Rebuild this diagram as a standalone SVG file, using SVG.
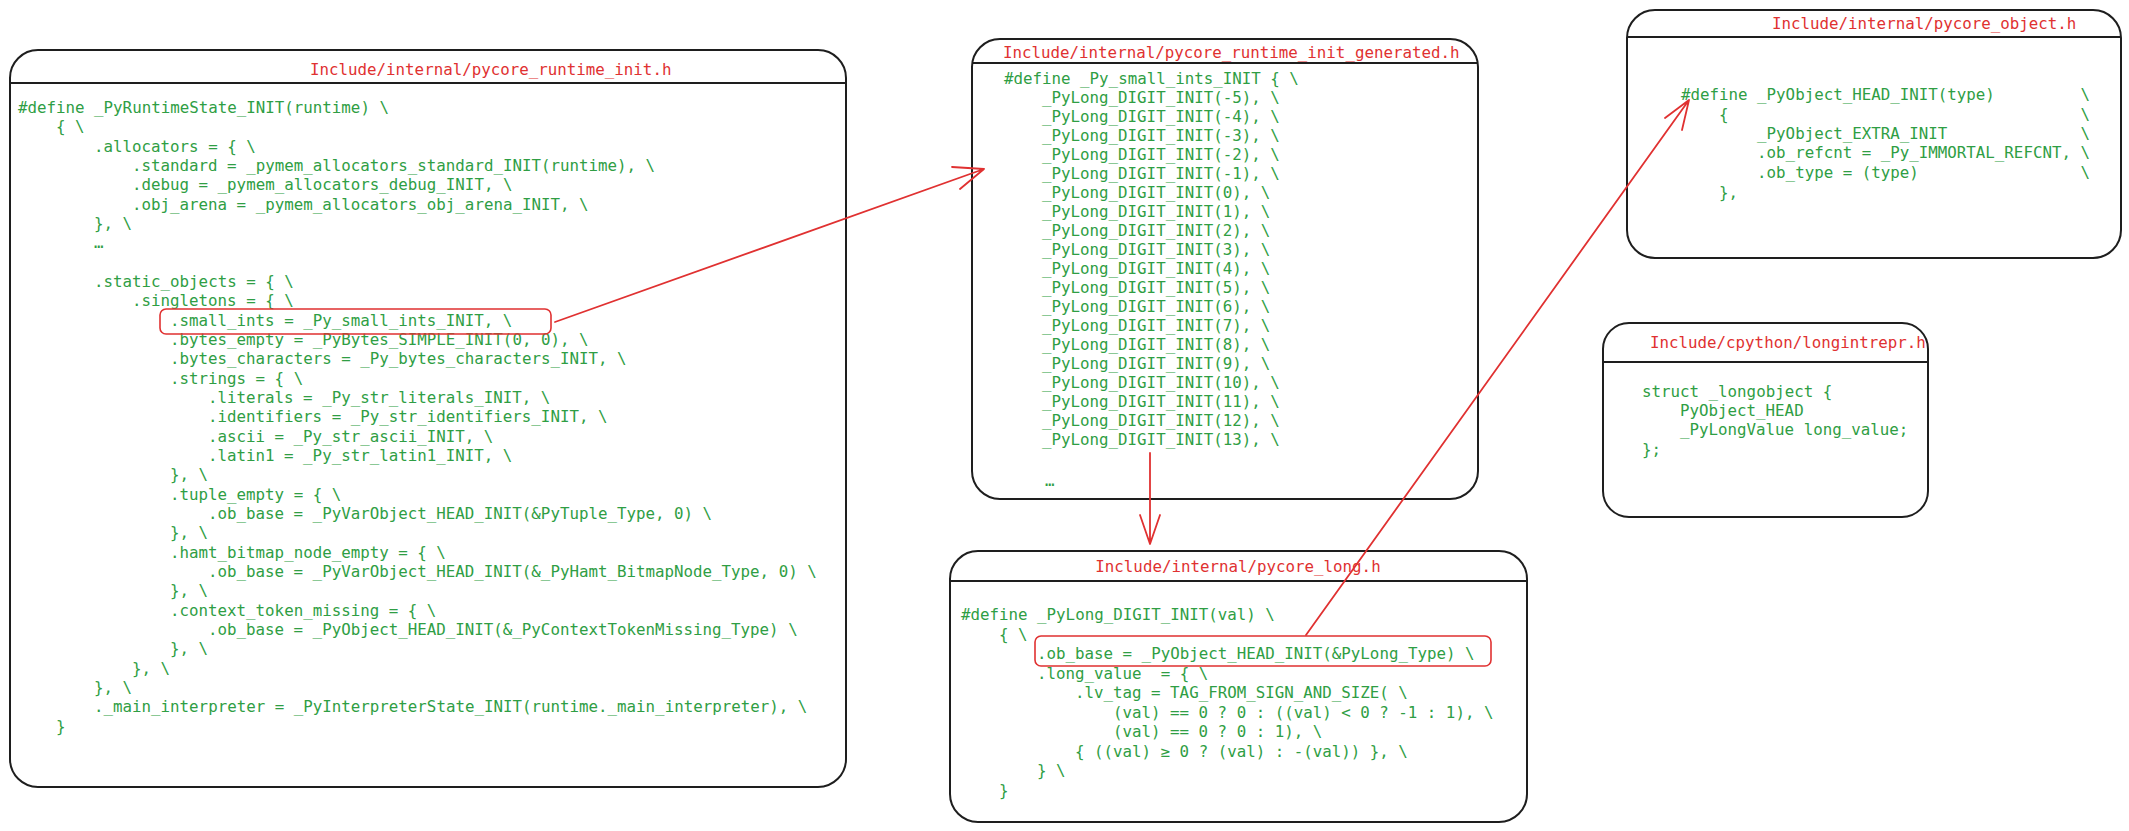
<svg xmlns="http://www.w3.org/2000/svg" width="2129" height="831" viewBox="0 0 2129 831">
<style>
.box{fill:#fff;stroke:#1e1e1e;stroke-width:2}
.hl{fill:none;stroke:#1e1e1e;stroke-width:2}
.t{font-family:"DejaVu Sans Mono","Liberation Mono",monospace;font-size:15.8px;fill:#e03131}
.c{font-family:"DejaVu Sans Mono","Liberation Mono",monospace;font-size:15.8px;fill:#2f9e44;white-space:pre}
.mk{fill:none;stroke:#e03131;stroke-width:1.6;rx:6}
.cn{fill:none;stroke:#e03131;stroke-width:1.8;stroke-linecap:round}
</style>
<rect width="2129" height="831" fill="#fff"/>
<g id="runtime_init">
<rect class="box" x="10" y="50" width="836" height="737" rx="28"/>
<line class="hl" x1="10" y1="83" x2="846" y2="83"/>
<text class="t" x="310" y="75">Include/internal/pycore_runtime_init.h</text>
<text class="c">
<tspan x="18" y="113">#define _PyRuntimeState_INIT(runtime) \</tspan>
<tspan x="56" y="132">{ \</tspan>
<tspan x="94" y="152">.allocators = { \</tspan>
<tspan x="132" y="171">.standard = _pymem_allocators_standard_INIT(runtime), \</tspan>
<tspan x="132" y="190">.debug = _pymem_allocators_debug_INIT, \</tspan>
<tspan x="132" y="210">.obj_arena = _pymem_allocators_obj_arena_INIT, \</tspan>
<tspan x="94" y="229">}, \</tspan>
<tspan x="94" y="248">…</tspan>
<tspan x="94" y="287">.static_objects = { \</tspan>
<tspan x="132" y="306">.singletons = { \</tspan>
<tspan x="170" y="326">.small_ints = _Py_small_ints_INIT, \</tspan>
<tspan x="170" y="345">.bytes_empty = _PyBytes_SIMPLE_INIT(0, 0), \</tspan>
<tspan x="170" y="364">.bytes_characters = _Py_bytes_characters_INIT, \</tspan>
<tspan x="170" y="384">.strings = { \</tspan>
<tspan x="208" y="403">.literals = _Py_str_literals_INIT, \</tspan>
<tspan x="208" y="422">.identifiers = _Py_str_identifiers_INIT, \</tspan>
<tspan x="208" y="442">.ascii = _Py_str_ascii_INIT, \</tspan>
<tspan x="208" y="461">.latin1 = _Py_str_latin1_INIT, \</tspan>
<tspan x="170" y="480">}, \</tspan>
<tspan x="170" y="500">.tuple_empty = { \</tspan>
<tspan x="208" y="519">.ob_base = _PyVarObject_HEAD_INIT(&amp;PyTuple_Type, 0) \</tspan>
<tspan x="170" y="538">}, \</tspan>
<tspan x="170" y="558">.hamt_bitmap_node_empty = { \</tspan>
<tspan x="208" y="577">.ob_base = _PyVarObject_HEAD_INIT(&amp;_PyHamt_BitmapNode_Type, 0) \</tspan>
<tspan x="170" y="596">}, \</tspan>
<tspan x="170" y="616">.context_token_missing = { \</tspan>
<tspan x="208" y="635">.ob_base = _PyObject_HEAD_INIT(&amp;_PyContextTokenMissing_Type) \</tspan>
<tspan x="170" y="654">}, \</tspan>
<tspan x="132" y="674">}, \</tspan>
<tspan x="94" y="693">}, \</tspan>
<tspan x="94" y="712">._main_interpreter = _PyInterpreterState_INIT(runtime._main_interpreter), \</tspan>
<tspan x="56" y="732">}</tspan>
</text>
<rect class="mk" x="160" y="309" width="391" height="25"/>
</g>
<g id="runtime_init_generated">
<rect class="box" x="972" y="39" width="506" height="460" rx="28"/>
<line class="hl" x1="972" y1="63" x2="1478" y2="63"/>
<text class="t" x="1003" y="58">Include/internal/pycore_runtime_init_generated.h</text>
<text class="c">
<tspan x="1004" y="84">#define _Py_small_ints_INIT { \</tspan>
<tspan x="1042" y="103">_PyLong_DIGIT_INIT(-5), \</tspan>
<tspan x="1042" y="122">_PyLong_DIGIT_INIT(-4), \</tspan>
<tspan x="1042" y="141">_PyLong_DIGIT_INIT(-3), \</tspan>
<tspan x="1042" y="160">_PyLong_DIGIT_INIT(-2), \</tspan>
<tspan x="1042" y="179">_PyLong_DIGIT_INIT(-1), \</tspan>
<tspan x="1042" y="198">_PyLong_DIGIT_INIT(0), \</tspan>
<tspan x="1042" y="217">_PyLong_DIGIT_INIT(1), \</tspan>
<tspan x="1042" y="236">_PyLong_DIGIT_INIT(2), \</tspan>
<tspan x="1042" y="255">_PyLong_DIGIT_INIT(3), \</tspan>
<tspan x="1042" y="274">_PyLong_DIGIT_INIT(4), \</tspan>
<tspan x="1042" y="293">_PyLong_DIGIT_INIT(5), \</tspan>
<tspan x="1042" y="312">_PyLong_DIGIT_INIT(6), \</tspan>
<tspan x="1042" y="331">_PyLong_DIGIT_INIT(7), \</tspan>
<tspan x="1042" y="350">_PyLong_DIGIT_INIT(8), \</tspan>
<tspan x="1042" y="369">_PyLong_DIGIT_INIT(9), \</tspan>
<tspan x="1042" y="388">_PyLong_DIGIT_INIT(10), \</tspan>
<tspan x="1042" y="407">_PyLong_DIGIT_INIT(11), \</tspan>
<tspan x="1042" y="426">_PyLong_DIGIT_INIT(12), \</tspan>
<tspan x="1042" y="445">_PyLong_DIGIT_INIT(13), \</tspan>
<tspan x="1045" y="486">…</tspan>
</text>
</g>
<g id="pycore_long">
<rect class="box" x="950" y="551" width="577" height="271" rx="28"/>
<line class="hl" x1="950" y1="581" x2="1527" y2="581"/>
<text class="t" x="1238" y="572" text-anchor="middle">Include/internal/pycore_long.h</text>
<text class="c">
<tspan x="961" y="620">#define _PyLong_DIGIT_INIT(val) \</tspan>
<tspan x="999" y="640">{ \</tspan>
<tspan x="1037" y="659">.ob_base = _PyObject_HEAD_INIT(&amp;PyLong_Type) \</tspan>
<tspan x="1037" y="679">.long_value  = { \</tspan>
<tspan x="1075" y="698">.lv_tag = TAG_FROM_SIGN_AND_SIZE( \</tspan>
<tspan x="1113" y="718">(val) == 0 ? 0 : ((val) &lt; 0 ? -1 : 1), \</tspan>
<tspan x="1113" y="737">(val) == 0 ? 0 : 1), \</tspan>
<tspan x="1075" y="757">{ ((val) ≥ 0 ? (val) : -(val)) }, \</tspan>
<tspan x="1037" y="776">} \</tspan>
<tspan x="999" y="796">}</tspan>
</text>
<rect class="mk" x="1035" y="636" width="456" height="30"/>
</g>
<g id="pycore_object">
<rect class="box" x="1627" y="10" width="494" height="248" rx="28"/>
<line class="hl" x1="1627" y1="37" x2="2121" y2="37"/>
<text class="t" x="1772" y="29">Include/internal/pycore_object.h</text>
<text class="c">
<tspan x="1681" y="100">#define _PyObject_HEAD_INIT(type)         \</tspan>
<tspan x="1681" y="120">    {                                     \</tspan>
<tspan x="1681" y="139">        _PyObject_EXTRA_INIT              \</tspan>
<tspan x="1681" y="158">        .ob_refcnt = _Py_IMMORTAL_REFCNT, \</tspan>
<tspan x="1681" y="178">        .ob_type = (type)                 \</tspan>
<tspan x="1681" y="198">    },</tspan>
</text>
</g>
<g id="longintrepr">
<rect class="box" x="1603" y="323" width="325" height="194" rx="26"/>
<line class="hl" x1="1603" y1="362" x2="1928" y2="362"/>
<text class="t" x="1650" y="348">Include/cpython/longintrepr.h</text>
<text class="c">
<tspan x="1642" y="397">struct _longobject {</tspan>
<tspan x="1680" y="416">PyObject_HEAD</tspan>
<tspan x="1680" y="435">_PyLongValue long_value;</tspan>
<tspan x="1642" y="455">};</tspan>
</text>
</g>
<g id="connectors">
<path class="cn" d="M555 322 L984 169 M984 169 L952 167 M984 169 L960 189"/>
<path class="cn" d="M1150 453 L1150 544 M1150 544 L1140 515 M1150 544 L1160 515"/>
<path class="cn" d="M1306 635 L1689 100 M1689 100 L1665 118 M1689 100 L1682 130"/>
</g>
</svg>
